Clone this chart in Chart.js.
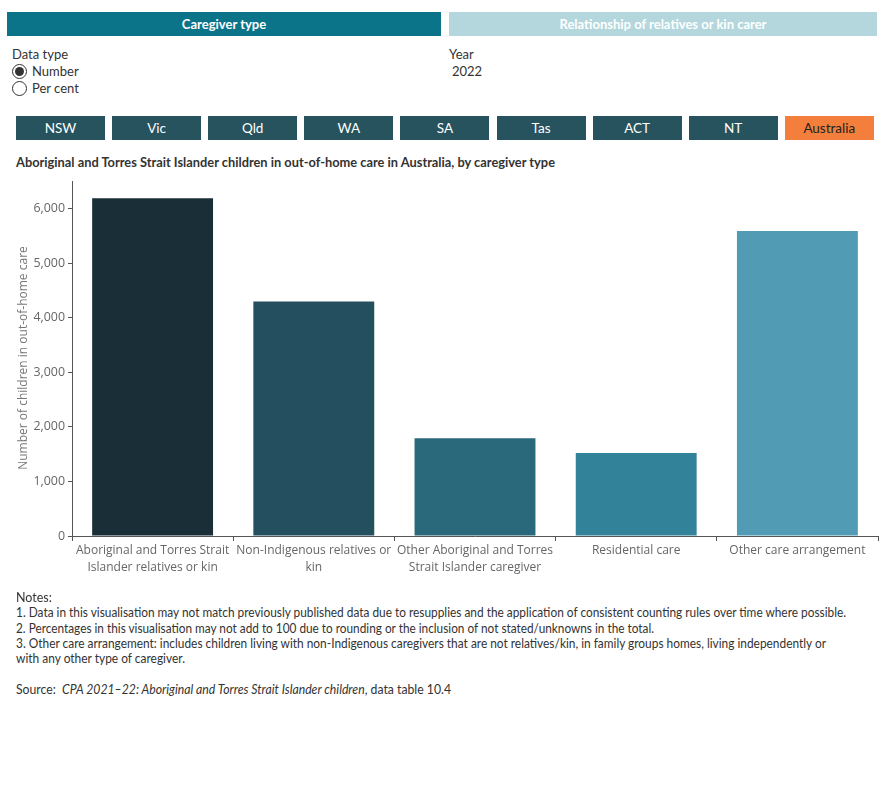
<!DOCTYPE html>
<html>
<head>
<meta charset="utf-8">
<script src="https://cdn.jsdelivr.net/npm/chart.js@4"></script>
<style>
  body { margin: 0; background: #fff; font-family: "Lato", sans-serif; color: #333; }
  #page { position: relative; width: 890px; height: 800px; }
  .tab { position: absolute; top: 12px; height: 24px; line-height: 24px; text-align: center; color: #fff; font-size: 13px; font-weight: bold; }
  .lbl { position: absolute; font-size: 13px; color: #333; }
  .radio { position: absolute; left: 12px; width: 13px; height: 13px; border: 1px solid #333; border-radius: 50%; background: #fff; }
  .radio.on::after { content: ""; position: absolute; left: 2px; top: 2px; width: 9px; height: 9px; border-radius: 50%; background: #333; }
  .btn { position: absolute; top: 116px; width: 89px; height: 24px; line-height: 24px; text-align: center; background: #27535f; color: #fff; font-size: 13.5px; }
  .fit { position: absolute; left: 16px; white-space: nowrap; transform-origin: left center; }
  #title { top: 155px; font-size: 12.5px; font-weight: bold; color: #333; }
  #chartBox { position: absolute; left: 0; top: 171px; width: 890px; height: 409px; }
  #ytitle { position: absolute; left: 22px; top: 358px; transform: translate(-50%, -50%) rotate(-90deg); white-space: nowrap; font-family: "Open Sans", sans-serif; font-size: 12px; color: #777; }
  .note { font-size: 12.5px; color: #333; }
</style>
</head>
<body>
<div id="page">
  <div class="tab" style="left:7px;width:434px;background:#0b7489;">Caregiver type</div>
  <div class="tab" style="left:449px;width:428px;background:#b3d7dd;">Relationship of relatives or kin carer</div>

  <div class="lbl" style="left:12px;top:46px;">Data type</div>
  <div class="radio on" style="top:64px;"></div>
  <div class="lbl" style="left:32px;top:63px;">Number</div>
  <div class="radio" style="top:81px;"></div>
  <div class="lbl" style="left:32px;top:80px;">Per cent</div>
  <div class="lbl" style="left:449px;top:46px;">Year</div>
  <div class="lbl" style="left:452px;top:63px;">2022</div>

  <div id="buttons"></div>

  <div id="title" class="fit" data-w="539">Aboriginal and Torres Strait Islander children in out-of-home care in Australia, by caregiver type</div>
  <div id="chartBox"><canvas id="careChart"></canvas></div>
  <div id="ytitle">Number of children in out-of-home care</div>

  <div class="fit note" style="top:590px;">Notes:</div>
  <div class="fit note" style="top:605px;" data-w="830">1. Data in this visualisation may not match previously published data due to resupplies and the application of consistent counting rules over time where possible.</div>
  <div class="fit note" style="top:621px;" data-w="638">2. Percentages in this visualisation may not add to 100 due to rounding or the inclusion of not stated/unknowns in the total.</div>
  <div class="fit note" style="top:636px;" data-w="810">3. Other care arrangement: includes children living with non-Indigenous caregivers that are not relatives/kin, in family groups homes, living independently or</div>
  <div class="fit note" style="top:651px;" data-w="169">with any other type of caregiver.</div>
  <div class="fit note" style="top:682px;" data-w="435">Source:&nbsp; <i>CPA 2021–22: Aboriginal and Torres Strait Islander children</i>, data table 10.4</div>
</div>

<script>
// Dados do gráfico
const jurisdictions = ['NSW', 'Vic', 'Qld', 'WA', 'SA', 'Tas', 'ACT', 'NT', 'Australia'];
const caregiverTypes = [
    ['Aboriginal and Torres Strait', 'Islander relatives or kin'],
    ['Non-Indigenous relatives or', 'kin'],
    ['Other Aboriginal and Torres', 'Strait Islander caregiver'],
    'Residential care',
    'Other care arrangement'
];
const childrenCount = [6190, 4300, 1790, 1520, 5590];
const barColours = ['#1a2e37', '#244f5e', '#2a697c', '#32829a', '#519cb4'];
const yTicks = [0, 1000, 2000, 3000, 4000, 5000, 6000];

// Botões das jurisdições
const btnBox = document.getElementById('buttons');
jurisdictions.forEach((j, i) => {
    const b = document.createElement('div');
    b.className = 'btn';
    b.textContent = j;
    b.style.left = (16 + i * 96.1) + 'px';
    if (j === 'Australia') {
        b.style.background = '#f47f3c';
        b.style.color = '#222';
    }
    btnBox.appendChild(b);
});

// Ajustar largura dos textos (fonte do original é mais estreita)
document.querySelectorAll('.fit[data-w]').forEach(el => {
    const target = parseFloat(el.dataset.w);
    const w = el.getBoundingClientRect().width;
    if (w > 0) el.style.transform = 'scaleX(' + (target / w) + ')';
});

const ctx = document.getElementById('careChart').getContext('2d');
new Chart(ctx, {
    type: 'bar',
    data: {
        labels: caregiverTypes,
        datasets: [{
            data: childrenCount,
            backgroundColor: barColours,
            categoryPercentage: 1,
            barPercentage: 0.75
        }]
    },
    options: {
        responsive: true,
        maintainAspectRatio: false,
        animation: false,
        layout: { padding: { top: 0, right: 12, left: 0, bottom: 0 } },
        plugins: {
            legend: { display: false },
            tooltip: { enabled: false }
        },
        scales: {
            x: {
                grid: {
                    display: true,
                    drawOnChartArea: false,
                    drawTicks: true,
                    tickLength: 5,
                    color: '#555',
                    offset: true
                },
                border: { display: true, color: '#555', width: 1 },
                ticks: {
                    color: '#666',
                    font: { family: 'Open Sans', size: 12, lineHeight: 1.4 },
                    maxRotation: 0,
                    autoSkip: false,
                    padding: 1
                },
                afterFit: (axis) => { axis.height = 44; }
            },
            y: {
                min: 0,
                max: 6500,
                afterBuildTicks: (axis) => {
                    axis.ticks = yTicks.map(v => ({ value: v }));
                },
                grid: {
                    display: true,
                    drawOnChartArea: false,
                    drawTicks: true,
                    tickLength: 4,
                    color: '#555'
                },
                border: { display: true, color: '#555', width: 1 },
                ticks: {
                    color: '#666',
                    font: { family: 'Open Sans', size: 12.4 },
                    padding: 3,
                    callback: (v) => v.toLocaleString('en-US')
                },
                afterFit: (axis) => { axis.width = 72; }
            }
        }
    }
});
</script>
</body>
</html>
